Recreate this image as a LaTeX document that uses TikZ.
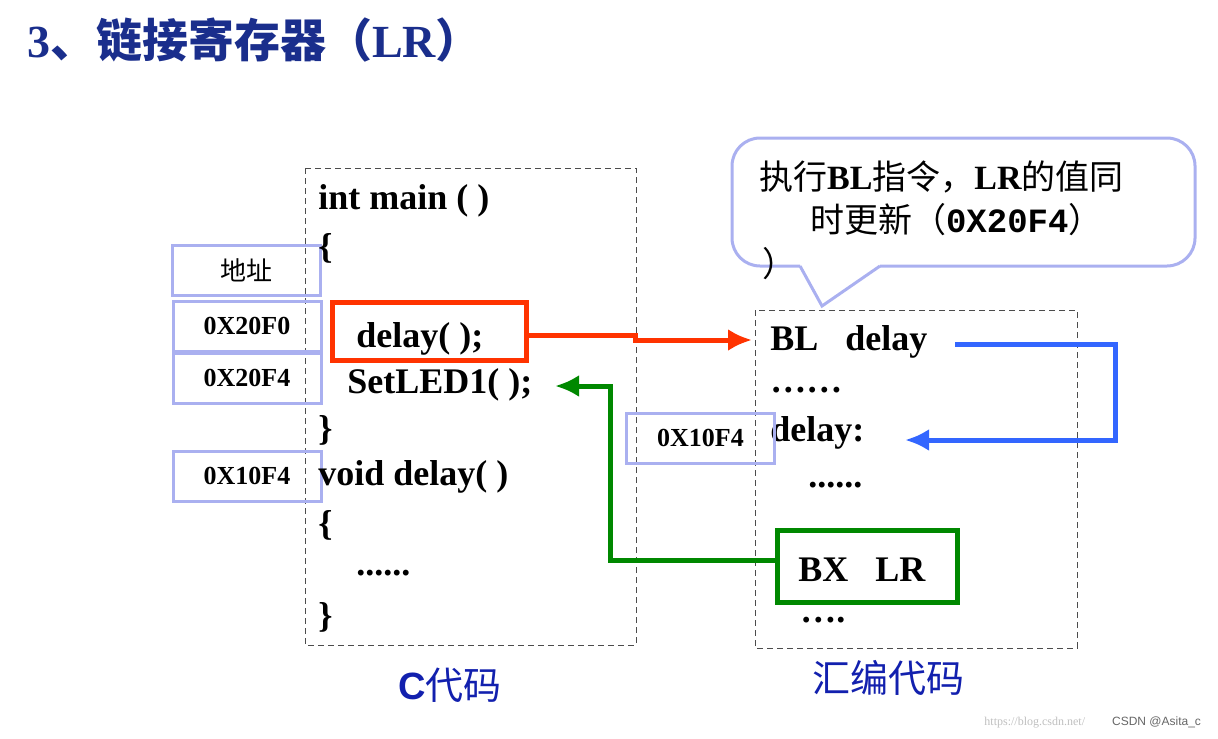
\documentclass[tikz,border=0pt]{standalone}
\usepackage{fontspec}
\usetikzlibrary{arrows.meta}
\setmainfont{Liberation Serif}
\newfontfamily\cjk{Noto Sans CJK SC}
\newfontfamily\sans{Liberation Sans}
\newfontfamily\mono{Liberation Mono}
\begin{document}
\begin{tikzpicture}[x=0.5pt,y=-0.5pt,
 addr/.style={draw=addrc,line width=1.5pt,minimum width=74pt,minimum height=25pt,font=\bfseries\fontsize{13}{13}\selectfont,inner sep=0pt},
 code/.style={anchor=west,font=\bfseries\fontsize{18}{18}\selectfont,inner sep=0pt},
 dbox/.style={draw=black!70,dash pattern=on 3pt off 2pt,line width=0.4pt},
 arr/.style={line width=2.5pt,-{Latex[length=12pt,width=11pt]}}]
\definecolor{addrc}{HTML}{AAB0F0}
\definecolor{navy}{HTML}{1A2E8C}
\definecolor{redc}{HTML}{FF3300}
\definecolor{bluec}{HTML}{3366FF}
\definecolor{greenc}{HTML}{008800}
\useasboundingbox (0,0) rectangle (1218,738);
\node[anchor=west,text=navy,font=\bfseries\fontsize{23}{23}\selectfont] (title) at (20,40) {3{\cjk 、链接寄存器（}LR{\cjk ）}};
\draw[dbox] (305,168) rectangle (636,645);
\draw[dbox] (755,310) rectangle (1077,648);
\node[addr] (a0) at (246,270) {\normalfont\cjk\fontsize{13}{13}\selectfont 地址};
\node[addr] (a1) at (247,326) {0X20F0};
\node[addr] (a2) at (247,378) {0X20F4};
\node[addr] (a3) at (247,476) {0X10F4};
\node[code] (c1) at (318,201) {int main ( )};
\node[code] (c2) at (318,248) {\{};
\node[code] (c3) at (356,339) {delay( );};
\node[code] (c4) at (347,385) {SetLED1( );};
\node[code] (c5) at (318,430) {\}};
\node[code] (c6) at (318,477) {void delay( )};
\node[code] (c7) at (318,525) {\{};
\node[code] (c8) at (356,573) {......};
\node[code] (c9) at (318,617) {\}};
\node[draw=redc,line width=2.5pt,minimum width=97pt,minimum height=29pt] (rb) at (429.5,331.5) {};
\node[code] (r1) at (770,342) {BL \ \ delay};
\node[code] (r2) at (770,390) {……};
\node[code] (r3) at (770,433) {delay:};
\node[code] (r4) at (808,485) {......};
\node[code] (r6) at (800,620) {….};
\node[draw=greenc,line width=2.5pt,minimum width=90pt,minimum height=36pt] (gb) at (867,566.5) {};
\node[code] (r5) at (798,570) {BX \ \ LR};
\node[addr] (a4) at (700.5,438) {0X10F4};
\coordinate (ra) at (752,340);
\draw[redc,arr] (rb.east|-0,335) -- (635,335) -- (635,340) -- (ra);
\coordinate (b1) at (955,344);
\coordinate (b2) at (905,440);
\draw[bluec,arr] (b1) -- (1115,344) -- (1115,440) -- (b2);
\coordinate (g2) at (555,386);
\draw[greenc,arr] (gb.west|-0,560) -- (610,560) -- (610,386) -- (g2);
\draw[addrc,line width=1.5pt,fill=white,rounded corners=14pt] (800,266) -- (732,266) -- (732,138) -- (1195,138) -- (1195,266) -- (880,266);
\draw[addrc,line width=1.5pt] (800,266) -- (822,306) -- (880,266);
\node[font=\fontsize{17}{17}\selectfont\bfseries,anchor=west] (t1) at (752,177) {{\normalfont\cjk 执行}BL{\normalfont\cjk 指令，}LR{\normalfont\cjk 的值同}};
\node[font=\fontsize{17}{17}\selectfont\bfseries,anchor=west] (t2) at (803,220) {{\normalfont\cjk 时更新（}{\mono\bfseries 0X20F4}{\normalfont\cjk ）}};
\node[font=\fontsize{17}{17}\selectfont,anchor=west] (t3) at (755,264) {\cjk ）};
\node[text=navy!70!blue,font=\fontsize{19}{19}\selectfont] (lc) at (450,685) {{\sans\bfseries C}{\cjk 代码}};
\node[text=navy!70!blue,font=\fontsize{19}{19}\selectfont] (la) at (888,678) {\cjk 汇编代码};
\node[text=black!25,font=\fontsize{6}{6}\selectfont,anchor=east] (wm) at (1208,722) {https://blog.csdn.net/\ \ \ \ \ \ \ \ \ \textcolor{black!60}{\sans CSDN @Asita\_c}};
\end{tikzpicture}
\end{document}
